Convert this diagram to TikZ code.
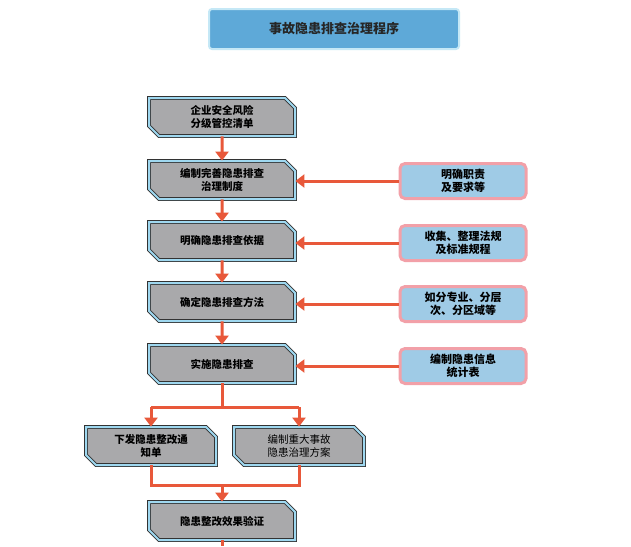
\documentclass[tikz,border=0pt]{standalone}
\usepackage{fontspec}
\newfontfamily\cjk{Noto Sans CJK SC}
\usetikzlibrary{shapes.misc,arrows.meta}
\definecolor{gbox}{HTML}{A9A9AB}
\definecolor{glow}{HTML}{9FD8F0}
\definecolor{rline}{HTML}{E8583A}
\definecolor{lblue}{HTML}{9FCBE6}
\definecolor{pinkb}{HTML}{F2A0A8}
\definecolor{tblue}{HTML}{5EA9D8}
\begin{document}
\begin{tikzpicture}[x=1pt,y=-1pt,
  lbox/.style={chamfered rectangle,chamfered rectangle corners={north east,south west},chamfered rectangle xsep=5pt,chamfered rectangle ysep=5pt,
    fill=gbox,draw=black!80,line width=0.8pt,double=glow,double distance=2pt,minimum width=146pt,minimum height=38pt,inner sep=2pt,
    align=center,font=\cjk\bfseries\fontsize{10.5}{13}\selectfont},
  rbox/.style={rounded corners=5pt,fill=lblue,draw=pinkb,line width=3pt,minimum width=126pt,minimum height=35pt,align=center,font=\cjk\bfseries\fontsize{11}{13}\selectfont},
  ar/.style={draw=rline,line width=3pt,-{Triangle[length=9pt,width=13pt]}},
  ln/.style={draw=rline,line width=3pt}]
\useasboundingbox (0,0) rectangle (631,546);
\fill[white] (0,0) rectangle (631,546);
\node[rounded corners=3pt,fill=tblue,draw=glow!60,line width=2pt,minimum width=250pt,minimum height=40pt,font=\cjk\bfseries\fontsize{13}{15}\selectfont,text=black!85] (t) at (334,29) {事故隐患排查治理程序};
\node[lbox] (b1) at (222,117) {企业安全风险\\分级管控清单};
\node[lbox] (b2) at (222,180) {编制完善隐患排查\\治理制度};
\node[lbox] (b3) at (222,241) {明确隐患排查依据};
\node[lbox] (b4) at (222,302) {确定隐患排查方法};
\node[lbox] (b5) at (222,364) {实施隐患排查};
\node[lbox,minimum width=130pt] (b6) at (151,446) {下发隐患整改通\\知单};
\node[lbox,minimum width=130pt,font=\cjk\fontsize{10.5}{13}\selectfont] (b7) at (299,446) {编制重大事故\\隐患治理方案};
\node[lbox] (b8) at (222,521) {隐患整改效果验证};
\node[rbox] (r1) at (463,181) {明确职责\\及要求等};
\node[rbox] (r2) at (463,243) {收集、整理法规\\及标准规程};
\node[rbox] (r3) at (463,304) {如分专业、分层\\次、分区域等};
\node[rbox] (r4) at (463,366) {编制隐患信息\\统计表};
\draw[ar] (b1) -- (b2);
\draw[ar] (b2) -- (b3);
\draw[ar] (b3) -- (b4);
\draw[ar] (b4) -- (b5);
\draw[ar] (r1.west) -- (b2.east|-r1.west);
\draw[ar] (r2.west) -- (b3.east|-r2.west);
\draw[ar] (r3.west) -- (b4.east|-r3.west);
\draw[ar] (r4.west) -- (b5.east|-r4.west);
\coordinate (s) at (222,407);
\coordinate (j) at (222,485);
\coordinate (e) at (222,546);
\draw[ln] (b5.south) -- (s);
\draw[ln,rounded corners=2pt] (b6.north|-s) -- (b7.north|-s);
\draw[ar] (b6.north|-s) -- (b6.north);
\draw[ar] (b7.north|-s) -- (b7.north);
\draw[ln] (b6.south) -- (b6.south|-j) -- (b7.south|-j) -- (b7.south);
\draw[ar] (j) -- (b8.north);
\draw[ln] (b8.south) -- (e);
\end{tikzpicture}
\end{document}
